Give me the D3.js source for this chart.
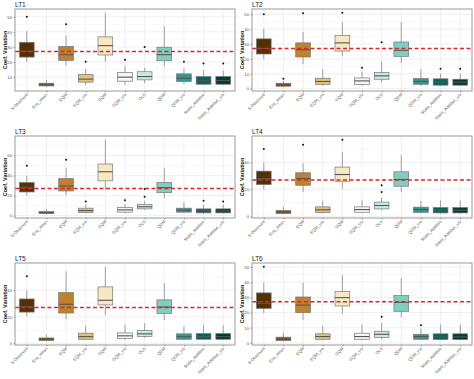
<!DOCTYPE html>
<html><head><meta charset="utf-8">
<script src="https://cdn.jsdelivr.net/npm/d3@7/dist/d3.min.js"></script>
<style>
body{margin:0;background:#fff}
svg{display:block}
text{font-family:"Liberation Sans",Arial,sans-serif}
</style>
</head><body>
<svg id="chart" width="474" height="379"></svg>
<script>
const categories = ["S-Observed","Ens_mean","EQM","EQM_yrs","GQM","GQM_yrs","OLS","QDM","QDM_yrs","Scale_Additive","Scale_Additive_yrs"];
const colors = ["#543005","#8c510a","#bf812d","#dfc27d","#f6e8c3","#f5f5f5","#c7eae5","#80cdc1","#35978f","#01665e","#003c30"];
const panelTitles = ["LT1","LT2","LT3","LT4","LT5","LT6"];
const refValue = 27;
const yTicks = [[10,20,30,40,50],[0,10,20,30,40,50],[0,20,40,60],[0,20,40],[0,20,40],[0,10,20,30,40,50]];

// [lower whisker, q1, median, q3, upper whisker]
const lt1Stats = [[20.2,23.3,27.2,33.1,40.4],[3.3,4.2,5.0,6.0,8.2],[17.5,21.1,24.9,30.4,37.6],[4.9,6.7,8.7,11.8,15.3],[20.2,24.7,30.9,36.7,52.7],[4.9,7.3,10.0,13.1,17.6],[6.0,8.2,10.4,13.6,16.2],[17.1,20.9,24.9,29.8,43.8],[5.6,7.1,9.3,12.2,15.6],[4.7,5.3,7.8,10.4,14.7],[4.9,5.3,7.8,10.4,14.4]];
const lt1Out = [[50],[],[45.1],[20.2],[],[21.6],[30],[],[20.2],[19.1],[19.1]];
const lt2Stats = [[19.9,23.3,27.0,33.5,40.3],[0.9,1.6,2.5,3.6,5.2],[16.5,21.3,26.2,30.8,38.2],[1.8,2.9,4.8,7.0,13.1],[21.7,25.3,30.8,35.7,44.8],[1.8,2.7,5.2,7.2,11.5],[4.5,6.3,8.6,10.9,18.1],[17.2,21.7,25.8,31.4,44.8],[1.8,2.9,4.8,6.8,13.1],[1.8,2.3,4.5,6.6,10.0],[1.8,2.3,4.3,6.3,10.0]];
const lt2Out = [[50],[6.6],[50.7],[],[51.1],[14],[31.2],[],[],[13.3],[13.3]];
const lt3Stats = [[20.2,23.6,28.3,33.0,39.7],[1.3,2.0,3.0,4.0,6.7],[20.5,24.6,29.6,37.0,47.8],[2.4,3.0,5.0,7.4,10.8],[25.3,34.7,43.8,51.5,75.8],[2.4,3.4,5.7,8.1,11.4],[5.7,6.7,8.8,11.1,14.8],[17.5,22.9,27.9,33.0,47.1],[2.7,3.4,5.4,7.4,13.5],[2.0,2.7,4.7,6.7,10.8],[2.0,2.7,4.7,6.7,10.8]];
const lt3Out = [[49.8],[],[55.9],[14.1],[],[15.2],[18.9,26.5],[],[],[14.8],[14.1]];
const lt4Stats = [[20.0,23.5,28.0,33.5,40.0],[1.5,2.0,3.3,4.3,7.0],[18.0,23.0,28.0,32.3,39.3],[2.0,2.8,4.8,7.0,11.5],[20.5,26.0,31.0,36.5,47.5],[2.3,3.0,5.0,7.0,12.0],[4.5,5.5,8.0,10.5,13.8],[18.0,22.3,27.3,33.0,45.5],[2.0,2.8,5.0,6.8,11.5],[2.0,2.5,4.5,6.5,11.8],[2.0,2.5,4.5,6.5,11.8]];
const lt4Out = [[50],[],[53],[],[56.8],[],[18,23],[],[],[],[]];
const lt5Stats = [[20.3,23.5,27.6,33.4,40.0],[1.5,2.0,3.0,4.0,6.6],[18.2,22.8,29.4,38.2,54.2],[2.5,3.0,5.0,7.6,13.2],[21.3,28.9,32.4,42.5,57.7],[2.5,3.5,5.6,7.8,14.2],[4.0,5.1,7.1,9.6,15.2],[17.5,22.5,27.3,32.7,45.3],[2.5,3.0,5.0,7.1,12.7],[2.5,3.0,5.0,7.3,13.7],[2.5,3.0,5.0,7.3,13.5]];
const lt5Out = [[50.6],[],[],[],[],[],[],[],[],[],[]];
const lt6Stats = [[19.6,22.7,26.0,32.9,39.7],[1.1,1.5,2.6,3.8,6.6],[15.2,19.9,24.9,30.2,39.5],[1.8,2.4,4.2,6.0,11.3],[19.2,24.3,29.8,33.8,44.6],[1.8,2.4,4.2,6.4,12.1],[2.4,3.5,5.7,7.7,13.2],[17.0,20.8,26.7,31.1,42.6],[1.8,2.4,4.2,5.7,9.5],[1.8,2.2,4.0,6.0,12.1],[1.8,2.2,4.0,6.0,12.1]];
const lt6Out = [[50.1],[],[],[],[],[],[17.2],[],[11.7],[],[]];

const allStats = [lt1Stats,lt2Stats,lt3Stats,lt4Stats,lt5Stats,lt6Stats];
const allOut = [lt1Out,lt2Out,lt3Out,lt4Out,lt5Out,lt6Out];

const svg = d3.select("#chart");
const colX = [15, 252], panelW = 220;
const rowY = [9, 136, 263], panelH = 82;

panelTitles.forEach((title, p) => {
  const x0 = colX[p % 2], y0 = rowY[Math.floor(p / 2)];
  const stats = allStats[p], outs = allOut[p];
  const vals = stats.flat().concat(outs.flat());
  const mn = d3.min(vals), mx = d3.max(vals), r = mx - mn;
  const y = d3.scaleLinear().domain([mn - 0.05 * r, mx + 0.05 * r]).range([y0 + panelH, y0]);
  const x = d3.scalePoint().domain(categories).range([x0, x0 + panelW]).padding(0.6);
  const bw = x.step() * 0.75;
  const g = svg.append("g");

  g.append("rect").attr("x", x0).attr("y", y0).attr("width", panelW).attr("height", panelH).attr("fill", "#fff");
  // grid
  const ticks = yTicks[p];
  const stepT = ticks[1] - ticks[0];
  const minor = [];
  for (let t = ticks[0] - stepT / 2; t <= ticks[ticks.length - 1] + stepT; t += stepT) {
    if (t > y.domain()[0] && t < y.domain()[1]) minor.push(t);
  }
  g.selectAll(".mi").data(minor).join("line")
    .attr("x1", x0).attr("x2", x0 + panelW).attr("y1", d => y(d)).attr("y2", d => y(d))
    .attr("stroke", "#f2f2f2").attr("stroke-width", 0.5);
  g.selectAll(".ma").data(ticks).join("line")
    .attr("x1", x0).attr("x2", x0 + panelW).attr("y1", d => y(d)).attr("y2", d => y(d))
    .attr("stroke", "#e6e6e6").attr("stroke-width", 0.6);
  g.selectAll(".vg").data(categories).join("line")
    .attr("x1", d => x(d)).attr("x2", d => x(d)).attr("y1", y0).attr("y2", y0 + panelH)
    .attr("stroke", "#e6e6e6").attr("stroke-width", 0.6);

  // boxes
  stats.forEach((s, i) => {
    const cx = x(categories[i]);
    g.append("line").attr("x1", cx).attr("x2", cx).attr("y1", y(s[3])).attr("y2", y(s[4]))
      .attr("stroke", "#8a8a8a").attr("stroke-width", 0.8);
    g.append("line").attr("x1", cx).attr("x2", cx).attr("y1", y(s[1])).attr("y2", y(s[0]))
      .attr("stroke", "#8a8a8a").attr("stroke-width", 0.8);
    g.append("rect").attr("x", cx - bw / 2).attr("width", bw)
      .attr("y", y(s[3])).attr("height", y(s[1]) - y(s[3]))
      .attr("fill", colors[i]).attr("stroke", "#777").attr("stroke-width", 0.7);
    g.append("line").attr("x1", cx - bw / 2).attr("x2", cx + bw / 2).attr("y1", y(s[2])).attr("y2", y(s[2]))
      .attr("stroke", "#555").attr("stroke-width", 1.1);
    outs[i].forEach(o => {
      g.append("circle").attr("cx", cx).attr("cy", y(o)).attr("r", 1).attr("fill", "#111");
    });
  });

  // reference line
  g.append("line").attr("x1", x0).attr("x2", x0 + panelW).attr("y1", y(refValue)).attr("y2", y(refValue))
    .attr("stroke", "#e0262a").attr("stroke-width", 1.5).attr("stroke-dasharray", "4,2.5");

  // border
  g.append("rect").attr("x", x0).attr("y", y0).attr("width", panelW).attr("height", panelH)
    .attr("fill", "none").attr("stroke", "#9a9a9a").attr("stroke-width", 1);

  // axes
  const ya = g.append("g").attr("transform", `translate(${x0},0)`)
    .call(d3.axisLeft(y).tickValues(ticks).tickSize(1.5).tickPadding(1.5));
  ya.select(".domain").remove();
  ya.selectAll("line").attr("stroke", "#555").attr("stroke-width", 0.5);
  ya.selectAll("text").attr("font-size", 4.2).attr("fill", "#555");

  const xa = g.append("g").attr("transform", `translate(0,${y0 + panelH})`)
    .call(d3.axisBottom(x).tickSize(1.5).tickPadding(1.5));
  xa.select(".domain").remove();
  xa.selectAll("line").attr("stroke", "#555").attr("stroke-width", 0.5);
  xa.selectAll("text").attr("font-size", 4.2).attr("fill", "#555")
    .attr("text-anchor", "end").attr("dy", "0.3em")
    .attr("transform", "translate(0,3) rotate(-45)").attr("y", 0).attr("x", 0);

  // titles
  g.append("text").attr("x", x0).attr("y", y0 - 2.5).text(title)
    .attr("font-size", 6.5).attr("fill", "#222");
  g.append("text").attr("transform", `translate(${x0 - 8.5},${y0 + panelH / 2}) rotate(-90)`)
    .attr("text-anchor", "middle").attr("font-size", 5.5).attr("font-weight", "bold").attr("fill", "#111")
    .text("Coef. Variation");
});
</script>
</body></html>
